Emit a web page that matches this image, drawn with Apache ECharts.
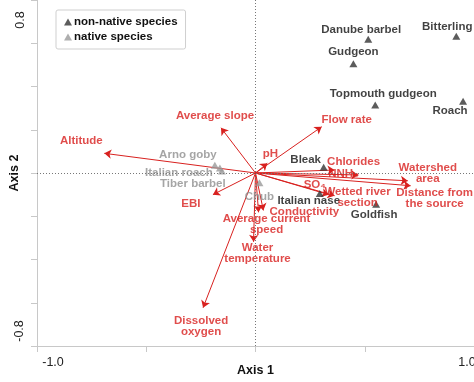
<!DOCTYPE html>
<html><head><meta charset="utf-8">
<script src="https://cdn.jsdelivr.net/npm/echarts@6/dist/echarts.min.js"></script>
<style>html,body{margin:0;padding:0;background:#fff}#c{width:474px;height:382px}</style>
</head><body><div id="c"></div>
<script>
// ---- DATA ----
const envVars = ['Altitude', 'Average slope', 'Flow rate', 'pH', 'EBI', 'Chlorides', 'NNH\u2084', 'SO\u2084',
  'Wetted river\nsection', 'Watershed\narea', 'Distance from\nthe source', 'Conductivity',
  'Average current\nspeed', 'Water\ntemperature', 'Dissolved\noxygen'];
const envAxis1 = [-0.692, -0.158, 0.303, 0.054, -0.195, 0.362, 0.471, 0.335, 0.362, 0.697, 0.71, 0.036, 0.014, -0.009, -0.24];
const envAxis2 = [0.091, 0.209, 0.214, 0.045, -0.1, 0.014, -0.009, -0.1, -0.105, -0.036, -0.059, -0.173, -0.182, -0.318, -0.623];

const nonNativeSpecies = ['Danube barbel', 'Bitterling', 'Gudgeon', 'Topmouth gudgeon', 'Roach', 'Bleak', 'Italian nase', 'Goldfish'];
const nonNativeAxis1 = [0.516, 0.919, 0.448, 0.548, 0.95, 0.312, 0.294, 0.552];
const nonNativeAxis2 = [0.618, 0.632, 0.505, 0.314, 0.332, 0.027, -0.095, -0.145];

const nativeSpecies = ['Arno goby', 'Italian roach', 'Tiber barbel', 'Chub'];
const nativeAxis1 = [-0.186, -0.163, -0.154, 0.018];
const nativeAxis2 = [0.036, 0.023, 0.009, -0.045];

const xTickLabels = ['-1.0', '1.0'];
const yTickLabels = ['0.8', '-0.8'];

// ---- LAYOUT / STYLE (pixel label offsets) ----
const envLabelOffsets = [[-23,-12],[-6,-12],[25,-7],[3,-9],[-22,9],[19,-8],[-15,-1],[-14,-10],
  [23,2],[20,-7],[24,13],[41,1],[8,12],[4,12],[-2,19]];
const nonNativeLabelOffsets = [[-7,-10],[-9,-10],[0,-12],[8,-11],[-13,10],[-18,-7],[-11,7],[-2,10]];
const nativeLabelOffsets = [[-27,-10],[-41,5],[-29,13],[0,14]];

const FONT = '"Liberation Sans", Arial, Helvetica, sans-serif';
const RED = '#d8211f';
const DARK = '#333333';
const GREY = '#9a9a9a';

const chart = echarts.init(document.getElementById('c'), null, {renderer: 'canvas'});

function labelCfg(color) {
  return {show: true, position: 'inside', color: color, fontFamily: FONT, fontWeight: 'bold',
    fontSize: 11.5, lineHeight: 11, align: 'center', verticalAlign: 'middle', formatter: '{b}'};
}

const option = {
  animation: false,
  grid: {left: 32, right: 0, top: 0, bottom: 30, containLabel: false},
  legend: {
    data: [{name: 'non-native species'}, {name: 'native species'}],
    orient: 'vertical', left: 56, top: 10, icon: 'triangle',
    itemWidth: 8, itemHeight: 7, itemGap: 3,
    padding: [6, 8, 6, 8],
    borderColor: '#cfcfcf', borderWidth: 1, borderRadius: 2,
    textStyle: {fontFamily: FONT, fontWeight: 'bold', fontSize: 11.5, color: '#111', padding: [0,0,0,-3]}
  },
  xAxis: {
    type: 'value', min: -1, max: 1, interval: 0.5,
    name: 'Axis 1', nameLocation: 'middle', nameGap: 18,
    nameTextStyle: {fontFamily: FONT, fontWeight: 'bold', fontSize: 12.5, color: '#111'},
    axisLine: {show: true, onZero: false, lineStyle: {color: '#c8c8c8'}},
    axisTick: {show: true, length: 6, lineStyle: {color: '#c8c8c8'}},
    axisLabel: {show: false},
    splitLine: {show: false}
  },
  yAxis: [{
    type: 'value', min: -0.8, max: 0.8, interval: 0.2,
    name: 'Axis 2', nameLocation: 'middle', nameGap: 16,
    nameTextStyle: {fontFamily: FONT, fontWeight: 'bold', fontSize: 12.5, color: '#111'},
    axisLine: {show: true, onZero: false, lineStyle: {color: '#c8c8c8'}},
    axisTick: {show: true, length: 6, lineStyle: {color: '#c8c8c8'}},
    axisLabel: {show: false},
    splitLine: {show: false}
  }, {
    type: 'value', min: -0.8, max: 0.8, position: 'right',
    axisLine: {show: true, onZero: false, lineStyle: {color: '#b0b0b0'}},
    axisTick: {show: false}, axisLabel: {show: false}, splitLine: {show: false}
  }],
  series: [
    {
      name: 'zero', type: 'scatter', data: [], silent: true,
      markLine: {
        silent: true, symbol: 'none', label: {show: false},
        lineStyle: {color: '#777', type: [1, 2], width: 1},
        data: [{xAxis: 0}, {yAxis: 0}]
      }
    },
    {
      name: 'arrows', type: 'lines', coordinateSystem: 'cartesian2d', silent: true,
      symbol: ['none', 'arrow'], symbolSize: 7,
      lineStyle: {color: RED, width: 1, opacity: 1, curveness: 0},
      data: envVars.map((n, i) => ({coords: [[0, 0], [envAxis1[i], envAxis2[i]]]}))
    },
    {
      name: 'env labels', type: 'scatter', symbolSize: 0, silent: true, z: 4,
      label: labelCfg(RED),
      data: envVars.map((n, i) => ({name: n, value: [envAxis1[i], envAxis2[i]],
        label: {offset: envLabelOffsets[i]}}))
    },
    {
      name: 'native species', type: 'scatter', symbol: 'triangle', symbolSize: [8, 7], z: 3,
      itemStyle: {color: GREY},
      label: labelCfg('#8f8f8f'),
      data: nativeSpecies.map((n, i) => ({name: n, value: [nativeAxis1[i], nativeAxis2[i]],
        label: {offset: nativeLabelOffsets[i]}}))
    },
    {
      name: 'non-native species', type: 'scatter', symbol: 'triangle', symbolSize: [8, 7], z: 3,
      itemStyle: {color: DARK},
      label: labelCfg('#111'),
      data: nonNativeSpecies.map((n, i) => ({name: n, value: [nonNativeAxis1[i], nonNativeAxis2[i]],
        label: {offset: nonNativeLabelOffsets[i]}}))
    }
  ]
};
chart.setOption(option);

// end tick labels placed through the axis scales
const pTopLeft = chart.convertToPixel({gridIndex: 0}, [-1, 0.8]);
const pBotLeft = chart.convertToPixel({gridIndex: 0}, [-1, -0.8]);
const pBotRight = chart.convertToPixel({gridIndex: 0}, [1, -0.8]);
const tickStyle = {fontFamily: FONT, fontSize: 12.5, fill: '#222'};
chart.setOption({
  graphic: [
    {type: 'text', x: pBotLeft[0] + 16, y: pBotLeft[1] + 17, style: Object.assign({text: xTickLabels[0], align: 'center', verticalAlign: 'middle'}, tickStyle)},
    {type: 'text', x: pBotRight[0] - 7, y: pBotRight[1] + 17, style: Object.assign({text: xTickLabels[1], align: 'center', verticalAlign: 'middle'}, tickStyle)},
    {type: 'text', x: pTopLeft[0] - 16, y: pTopLeft[1] + 20, rotation: Math.PI / 2, style: Object.assign({text: yTickLabels[0], align: 'center', verticalAlign: 'middle'}, tickStyle)},
    {type: 'text', x: pBotLeft[0] - 17, y: pBotLeft[1] - 15, rotation: Math.PI / 2, style: Object.assign({text: yTickLabels[1], align: 'center', verticalAlign: 'middle'}, tickStyle)}
  ]
});
</script>
</body></html>
